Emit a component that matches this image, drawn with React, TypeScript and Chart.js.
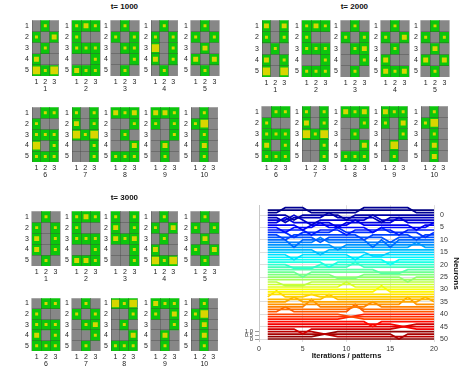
import React, { useEffect, useRef } from 'react';
import { Chart, registerables } from 'chart.js';

Chart.register(...registerables);

// ---------------- data ----------------
const blockTitles = ['t= 1000', 't= 2000', 't= 3000'];
const columnLabels = ['1', '2', '3'];
const rowLabels = [1, 2, 3, 4, 5];
const patternNumbers = [1, 2, 3, 4, 5, 6, 7, 8, 9, 10];

// 0 = inactive (grey), 1..3 = active (green) with yellow square of growing size
const patternsT1000 = [
  [[0, 1, 0], [1, 0, 2], [0, 1, 0], [2, 0, 0], [3, 1, 3]],
  [[1, 2, 1], [1, 0, 0], [1, 1, 1], [0, 0, 1], [2, 1, 1]],
  [[0, 1, 0], [1, 0, 1], [0, 1, 1], [0, 0, 1], [0, 1, 0]],
  [[0, 1, 0], [1, 0, 1], [3, 0, 1], [2, 0, 1], [0, 1, 0]],
  [[0, 1, 0], [1, 0, 1], [0, 2, 0], [2, 0, 2], [0, 1, 0]],
  [[0, 1, 1], [1, 0, 0], [1, 1, 1], [3, 0, 1], [1, 1, 1]],
  [[1, 0, 1], [2, 0, 1], [3, 1, 3], [0, 0, 1], [0, 0, 1]],
  [[2, 1, 2], [0, 0, 1], [0, 1, 0], [0, 0, 2], [1, 1, 1]],
  [[2, 2, 1], [1, 0, 1], [0, 0, 1], [0, 2, 0], [0, 1, 0]],
  [[0, 1, 0], [1, 3, 0], [0, 1, 0], [0, 2, 0], [0, 1, 0]],
];
const patternsT2000 = [
  [[2, 0, 2], [1, 0, 1], [0, 1, 0], [2, 0, 1], [3, 0, 3]],
  [[1, 2, 1], [1, 0, 0], [1, 1, 1], [0, 0, 1], [1, 1, 1]],
  [[0, 1, 0], [1, 0, 1], [0, 1, 2], [0, 0, 1], [0, 1, 0]],
  [[0, 1, 0], [1, 0, 2], [0, 1, 0], [2, 0, 0], [2, 1, 2]],
  [[0, 1, 0], [1, 0, 1], [0, 2, 0], [2, 0, 2], [0, 1, 0]],
  [[0, 1, 1], [1, 0, 0], [1, 1, 1], [2, 0, 1], [1, 1, 1]],
  [[1, 0, 1], [2, 0, 1], [3, 1, 3], [0, 0, 1], [0, 0, 1]],
  [[2, 1, 2], [0, 0, 1], [0, 1, 0], [0, 0, 2], [1, 1, 1]],
  [[2, 1, 1], [1, 0, 2], [0, 0, 1], [0, 3, 0], [0, 1, 0]],
  [[0, 1, 0], [1, 3, 0], [0, 1, 0], [0, 2, 0], [0, 2, 0]],
];
const patternsT3000 = [
  [[0, 1, 0], [1, 0, 1], [2, 0, 1], [2, 0, 1], [0, 1, 0]],
  [[1, 2, 1], [1, 0, 0], [1, 1, 1], [0, 0, 1], [2, 2, 1]],
  [[1, 0, 1], [2, 0, 1], [2, 1, 2], [0, 0, 1], [0, 0, 1]],
  [[0, 1, 0], [1, 0, 2], [0, 1, 0], [2, 0, 0], [3, 1, 3]],
  [[0, 1, 0], [1, 0, 1], [0, 2, 0], [1, 0, 2], [0, 1, 0]],
  [[0, 1, 1], [1, 0, 0], [1, 1, 1], [2, 0, 1], [1, 1, 1]],
  [[0, 1, 0], [1, 0, 1], [0, 1, 2], [0, 0, 1], [0, 1, 0]],
  [[3, 1, 3], [0, 0, 1], [0, 1, 0], [0, 0, 2], [1, 1, 1]],
  [[2, 1, 1], [1, 0, 2], [0, 0, 1], [0, 2, 0], [0, 1, 0]],
  [[0, 1, 0], [1, 3, 0], [0, 2, 0], [0, 2, 0], [0, 1, 0]],
];

const iterationTicks = [0, 5, 10, 15, 20];
const neuronTicks = [0, 5, 10, 15, 20, 25, 30, 35, 40, 45, 50];
const sideTicks = [0, 0.5, 1];

// each neuron trace: vertices [iteration, neuron level]
const neuronPaths = [
  [[1, -2], [20, -2]],
  [[1, -1], [2, -1], [3, -3], [5, -3], [6, -1], [11, -1], [12, -3], [17, -3], [18, -1], [20, -1]],
  [[1, 0], [3, 0], [4, 2], [5, 0], [9, 0], [10, 2], [11, 0], [20, 0]],
  [[1, 1], [2, 1], [3, 3], [4, 1], [7, 1], [8, -1], [9, 1], [13, 1], [14, 3], [15, 1], [20, 1]],
  [[1, 2], [3, 2], [4, 0], [5, 2], [6, 4], [7, 2], [12, 2], [13, 0], [14, 2], [20, 2]],
  [[1, 3], [2, 3], [3, 1], [4, 3], [8, 3], [9, 5], [10, 3], [15, 3], [16, 1], [17, 3], [20, 3]],
  [[1, 4], [4, 4], [5, 6], [6, 4], [10, 4], [11, 2], [12, 4], [17, 4], [18, 6], [19, 4], [20, 4]],
  [[1, 5], [2, 5], [3, 7], [4, 5], [6, 5], [7, 3], [8, 5], [12, 5], [13, 7], [14, 5], [19, 5], [20, 3]],
  [[1, 6], [5, 6], [6, 8], [7, 6], [9, 6], [10, 8], [11, 6], [15, 6], [16, 8], [17, 6], [20, 6]],
  [[1, 7], [3, 7], [4, 9], [5, 7], [8, 7], [9, 5], [10, 7], [13, 7], [14, 5], [15, 7], [18, 7], [19, 9], [20, 7]],
  [[1, 8], [2, 8], [3, 10], [4, 8], [11, 8], [12, 10], [13, 8], [17, 8], [18, 10], [19, 8], [20, 8]],
  [[1, 9], [6, 9], [7, 11], [8, 9], [14, 9], [15, 11], [16, 9], [20, 9]],
  [[1, 10], [3, 10], [4, 13], [5, 10], [12, 10], [13, 13], [14, 10], [15, 13], [16, 10], [20, 10]],
  [[1, 11], [6, 11], [7, 9], [8, 11], [20, 11]],
  [[1, 12], [8, 12], [9, 14], [10, 12], [20, 12]],
  [[1, 13], [17, 13], [18, 11], [19, 13], [20, 13]],
  [[1, 14], [6, 14], [7, 16], [8, 14], [20, 14]],
  [[1, 15], [12, 15], [13, 16.5], [14, 16.5], [15, 15], [20, 15]],
  [[1, 16], [3, 16], [4, 18], [5, 16], [10, 16], [11, 18], [12, 16], [20, 16]],
  [[1, 17], [20, 17]],
  [[1, 18], [14, 18], [15, 20], [16, 18], [20, 18]],
  [[1, 19], [7, 19], [8, 21], [9, 19], [20, 19]],
  [[1, 20], [3, 20], [4, 21.5], [6, 21.5], [7, 20], [20, 20]],
  [[1, 21], [10, 21], [11, 19], [12, 21], [20, 21]],
  [[1, 22], [13, 22], [14, 23.5], [16, 23.5], [17, 22], [20, 22]],
  [[1, 23], [4, 23], [5, 25], [6, 23], [20, 23]],
  [[1, 24], [8, 24], [9, 25.5], [11, 25.5], [12, 24], [20, 24]],
  [[1, 25], [16, 25], [17, 27], [18, 25], [20, 25]],
  [[1, 26], [20, 26]],
  [[1, 27], [2, 27], [3, 28.5], [5, 28.5], [6, 27], [20, 27]],
  [[1, 28], [20, 28]],
  [[1, 29], [9, 29], [10, 27], [11, 29], [20, 29]],
  [[1, 30], [20, 30]],
  [[1, 31], [13, 31], [14, 28.5], [15, 31], [20, 31]],
  [[1, 32], [20, 32]],
  [[1, 33], [2, 30.5], [3, 33], [5, 33], [6, 32], [7, 33], [20, 33]],
  [[1, 34], [7, 34], [8, 32], [9, 34], [20, 34]],
  [[1, 35], [3, 35], [4, 33], [5, 35], [18, 35], [19, 33], [20, 35]],
  [[1, 36], [16, 36], [17, 33], [18, 36], [20, 36]],
  [[1, 37], [5, 37], [6, 34], [7, 37], [12, 37], [13, 35], [14, 37], [20, 37]],
  [[1, 38], [10, 38], [11, 37], [12, 38], [20, 38]],
  [[1, 39], [2, 39], [3, 37], [4, 39], [10, 39], [11, 36], [12, 39], [20, 39]],
  [[1, 40], [9, 40], [12, 42], [20, 42]],
  [[1, 41], [20, 41]],
  [[1, 42], [9, 42], [12, 40], [20, 40]],
  [[1, 43], [12, 43], [13, 45], [14, 43], [20, 43]],
  [[1, 44], [15, 44], [18, 46], [20, 46]],
  [[1, 45], [20, 45]],
  [[1, 46], [4, 46], [5, 48], [6, 46], [15, 46], [18, 44], [20, 44]],
  [[1, 47], [6, 47], [9, 49], [20, 49]],
  [[1, 48], [15, 48], [16, 50], [17, 48], [20, 48]],
  [[1, 49], [6, 49], [9, 47], [20, 47]],
  [[1, 50], [20, 50]],
];

// ---------------- styling ----------------
const FONT = "'Liberation Sans', Arial, Helvetica, sans-serif";
const GREEN = '#0cc60c';
const GREY = '#878787';
const YELLOW = '#d8d600';
const CELL_LINE = 'rgba(60,60,60,0.35)';
const DOT_RADIUS: Record<number, number> = { 1: 2.1, 2: 3.5, 3: 5.4 };

const blockLayout = [
  { left: 32, tops: [15, 102], heights: [61, 60] },
  { left: 262, tops: [15, 101], heights: [62, 61] },
  { left: 32, tops: [206, 293], heights: [60, 58] },
];
const COL_STEP = 39.7;
const GRID_W = 30;
const Y_AXIS_W = 14;
const X_AXIS_H = 20;

function jet(t: number) {
  const c = (v: number) => Math.round(255 * Math.max(0, Math.min(1, v)));
  return `rgb(${c(1.5 - Math.abs(4 * t - 3))},${c(1.5 - Math.abs(4 * t - 2))},${c(1.5 - Math.abs(4 * t - 1))})`;
}

function PatternGrid({ cells, label, left, top, height }: any) {
  const ref = useRef<HTMLCanvasElement>(null);
  useEffect(() => {
    const rowSets = rowLabels.map((r, ri) => ({
      type: 'bar',
      data: cells[ri].map(() => 1),
      backgroundColor: cells[ri].map((v: number) => (v > 0 ? GREEN : GREY)),
      borderWidth: 0,
      barPercentage: 1,
      categoryPercentage: 1,
      yAxisID: 'y',
      order: 2,
    }));
    const dots: any[] = [];
    cells.forEach((row: number[], ri: number) =>
      row.forEach((v, ci) => {
        if (v > 0) dots.push({ x: columnLabels[ci], y: rowLabels[ri] - 0.5, s: v });
      })
    );
    const font = { family: FONT, size: 7 };
    const chart = new Chart(ref.current as HTMLCanvasElement, {
      type: 'bar',
      data: {
        labels: columnLabels,
        datasets: [
          ...rowSets,
          {
            type: 'scatter',
            data: dots,
            pointStyle: 'rect',
            pointRadius: (c: any) => DOT_RADIUS[c.raw ? c.raw.s : 1],
            backgroundColor: YELLOW,
            borderWidth: 0,
            yAxisID: 'yg',
            order: 1,
          },
        ] as any,
      },
      options: {
        animation: false,
        responsive: false,
        events: [],
        layout: { padding: { top: 2, right: 2, left: 0, bottom: 0 } },
        plugins: { legend: { display: false }, tooltip: { enabled: false } },
        scales: {
          x: {
            type: 'category',
            stacked: true,
            offset: true,
            grid: { offset: true, color: CELL_LINE, drawTicks: false, z: 1 },
            border: { display: false },
            ticks: { font, color: '#222', padding: 2, maxRotation: 0, autoSkip: false },
            title: { display: true, text: String(label), font, color: '#222', padding: { top: 0, bottom: 3 } },
            afterFit: (s: any) => { s.height = X_AXIS_H; },
          },
          y: {
            type: 'linear',
            stacked: true,
            min: 0,
            max: rowLabels.length,
            reverse: true,
            afterBuildTicks: (s: any) => { s.ticks = rowLabels.map((v) => ({ value: v - 0.5 })); },
            grid: { display: false, drawTicks: false },
            border: { display: false },
            ticks: { font, color: '#222', padding: 3, callback: (v: number) => String(v + 0.5) },
            afterFit: (s: any) => { s.width = Y_AXIS_W; },
          },
          yg: {
            type: 'linear',
            position: 'left',
            min: 0,
            max: rowLabels.length,
            reverse: true,
            afterBuildTicks: (s: any) => { s.ticks = rowLabels.slice(0, -1).map((v) => ({ value: v })); },
            grid: { color: CELL_LINE, drawTicks: false, z: 1 },
            border: { display: false },
            ticks: { display: false },
            afterFit: (s: any) => { s.width = 0; },
          },
        } as any,
      },
    });
    return () => chart.destroy();
  }, []);
  const w = Y_AXIS_W + GRID_W + 2;
  const h = 2 + height + X_AXIS_H;
  return (
    <canvas
      ref={ref}
      width={w}
      height={h}
      style={{ position: 'absolute', left: left - Y_AXIS_W, top: top - 2, width: w, height: h }}
    />
  );
}

function NeuronChart() {
  const ref = useRef<HTMLCanvasElement>(null);
  useEffect(() => {
    const n = neuronPaths.length;
    const datasets = neuronPaths.map((pts, i) => ({
      data: pts.map(([x, y]) => ({ x, y })),
      borderColor: jet(i / (n - 1)),
      borderWidth: 1.7,
      pointRadius: 0,
      tension: 0,
      fill: false,
      yAxisID: 'y',
    }));
    const tickFont = { family: FONT, size: 7 };
    const chart = new Chart(ref.current as HTMLCanvasElement, {
      type: 'line',
      data: { datasets },
      options: {
        animation: false,
        responsive: false,
        events: [],
        layout: { padding: { top: 8, right: 0, left: 0, bottom: 0 } },
        plugins: { legend: { display: false }, tooltip: { enabled: false } },
        scales: {
          x: {
            type: 'linear',
            min: 0,
            max: 20,
            afterBuildTicks: (s: any) => { s.ticks = iterationTicks.map((v) => ({ value: v })); },
            grid: { color: '#dedede', drawTicks: false },
            border: { display: false },
            ticks: { font: tickFont, color: '#333', padding: 3 },
            title: {
              display: true,
              text: 'Iterations / patterns',
              font: { family: FONT, size: 7.5, weight: 'bold' },
              color: '#111',
              padding: { top: 0, bottom: 15 },
            },
            afterFit: (s: any) => { s.height = 33.5; },
          },
          y: {
            type: 'linear',
            position: 'right',
            min: -4,
            max: 51,
            reverse: true,
            afterBuildTicks: (s: any) => { s.ticks = neuronTicks.map((v) => ({ value: v })); },
            grid: { color: '#dedede', drawTicks: false },
            border: { display: false },
            ticks: { font: tickFont, color: '#333', padding: 6 },
            title: {
              display: true,
              text: 'Neurons',
              font: { family: FONT, size: 8, weight: 'bold' },
              color: '#111',
              padding: { top: 13, bottom: 0 },
            },
            afterFit: (s: any) => { s.width = 40; },
          },
          y2: {
            type: 'linear',
            position: 'left',
            min: -0.32,
            max: 17.64,
            afterBuildTicks: (s: any) => { s.ticks = sideTicks.map((v) => ({ value: v })); },
            grid: { drawOnChartArea: false, drawTicks: true, tickLength: 4, color: '#999' },
            border: { display: true, color: '#c8c8c8' },
            ticks: { font: { family: FONT, size: 6 }, color: '#333', padding: 2 },
            afterFit: (s: any) => { s.width = 19; },
          },
        } as any,
      },
    });
    return () => chart.destroy();
  }, []);
  return (
    <canvas
      ref={ref}
      width={234}
      height={180}
      style={{ position: 'absolute', left: 240, top: 195, width: 234, height: 180 }}
    />
  );
}

export default function App() {
  const blocks = [patternsT1000, patternsT2000, patternsT3000];
  return (
    <div style={{ position: 'absolute', left: 0, top: 0, width: 474, height: 375, background: '#fff', overflow: 'hidden', fontFamily: FONT }}>
      {blocks.map((patterns, b) => {
        const lay = blockLayout[b];
        const centerX = lay.left + 2 * COL_STEP + GRID_W / 2 - 2;
        return (
          <React.Fragment key={b}>
            <div
              style={{
                position: 'absolute',
                left: centerX - 40,
                width: 80,
                top: lay.tops[0] - 13,
                textAlign: 'center',
                fontWeight: 'bold',
                fontSize: 8,
                lineHeight: '10px',
                color: '#111',
              }}
            >
              {blockTitles[b]}
            </div>
            {patterns.map((cells, p) => {
              const r = Math.floor(p / 5);
              const c = p % 5;
              return (
                <PatternGrid
                  key={p}
                  cells={cells}
                  label={patternNumbers[p]}
                  left={Math.round(lay.left + c * COL_STEP)}
                  top={lay.tops[r]}
                  height={lay.heights[r]}
                />
              );
            })}
          </React.Fragment>
        );
      })}
      <NeuronChart />
    </div>
  );
}
